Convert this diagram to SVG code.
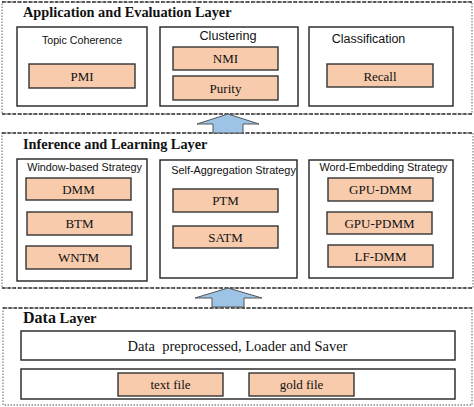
<svg xmlns="http://www.w3.org/2000/svg" width="474" height="407" viewBox="0 0 474 407">
<style>
.layer{fill:#fff;stroke:#888;stroke-width:1.3;stroke-dasharray:1.5 1.5}
.ledge{fill:none;stroke:#333;stroke-width:1.3;stroke-dasharray:3.5 1.8}
.box{fill:#fff;stroke:#222;stroke-width:1.4}
.item{fill:#f8cbad;stroke:#333;stroke-width:1.4}
.ltitle{font-family:"Liberation Serif",serif;font-weight:bold;font-size:14.3px;fill:#111}
.sub{font-family:"Liberation Sans",Arial,sans-serif;fill:#111;text-anchor:middle}
.it{font-family:"Liberation Serif",serif;font-size:13px;fill:#111;text-anchor:middle}
.arrow{fill:#9dc3e6;stroke:#555;stroke-width:1}
</style>
<rect width="474" height="407" fill="#fff"/>
<g id="layer-application">
<rect class="layer" x="2" y="2" width="470" height="112"/>
<path class="ledge" d="M2 2 H472 M2 114 H472"/>
<text class="ltitle" x="23" y="17">Application and Evaluation Layer</text>
<g id="topic-coherence">
<rect class="box" x="17" y="27" width="130" height="79"/>
<text class="sub" x="82" y="44" font-size="10.7">Topic Coherence</text>
<rect class="item" x="29" y="64" width="106" height="24"/>
<text class="it" x="82" y="81">PMI</text>
</g>
<g id="clustering">
<rect class="box" x="160" y="27" width="138" height="79"/>
<text class="sub" x="228" y="40" font-size="12.7">Clustering</text>
<rect class="item" x="173" y="47" width="105" height="23"/>
<text class="it" x="225.5" y="63">NMI</text>
<rect class="item" x="173" y="76" width="105" height="24"/>
<text class="it" x="225.5" y="93">Purity</text>
</g>
<g id="classification">
<rect class="box" x="309" y="27" width="144" height="79"/>
<text class="sub" x="368.5" y="43" font-size="12.5">Classification</text>
<rect class="item" x="327" y="64" width="106" height="23"/>
<text class="it" x="380" y="81">Recall</text>
</g>
</g>
<g id="layer-inference">
<rect class="layer" x="2" y="133" width="471" height="155"/>
<path class="ledge" d="M2 133 H473 M2 288 H473"/>
<text class="ltitle" x="23" y="149">Inference and Learning Layer</text>
<g id="window-based">
<rect class="box" x="17" y="159" width="130" height="122"/>
<text class="sub" x="84.5" y="171" font-size="10.8">Window-based Strategy</text>
<rect class="item" x="26" y="178" width="105" height="22"/>
<text class="it" x="78.5" y="194">DMM</text>
<rect class="item" x="27" y="212" width="105" height="23"/>
<text class="it" x="79.5" y="228">BTM</text>
<rect class="item" x="26" y="246" width="105" height="23"/>
<text class="it" x="78.5" y="262">WNTM</text>
</g>
<g id="self-aggregation">
<rect class="box" x="160" y="160" width="137" height="118"/>
<text class="sub" x="233.5" y="174" font-size="10.9">Self-Aggregation Strategy</text>
<rect class="item" x="173" y="189" width="105" height="23"/>
<text class="it" x="225.5" y="205">PTM</text>
<rect class="item" x="173" y="226" width="105" height="22"/>
<text class="it" x="225.5" y="242">SATM</text>
</g>
<g id="word-embedding">
<rect class="box" x="309" y="160" width="144" height="118"/>
<text class="sub" x="383.5" y="171" font-size="10.9">Word-Embedding Strategy</text>
<rect class="item" x="328" y="178" width="105" height="23"/>
<text class="it" x="380.5" y="194">GPU-DMM</text>
<rect class="item" x="327" y="212" width="105" height="22"/>
<text class="it" x="379.5" y="228">GPU-PDMM</text>
<rect class="item" x="328" y="245" width="105" height="22"/>
<text class="it" x="380.5" y="261">LF-DMM</text>
</g>
</g>
<g id="layer-data">
<rect class="layer" x="3" y="308" width="469" height="97"/>
<path class="ledge" d="M3 308 H472"/>
<text class="ltitle" x="23" y="323"><tspan font-size="16">Data</tspan> <tspan font-size="14.5">Layer</tspan></text>
<g id="data-preprocessed">
<rect class="box" x="21" y="331" width="434" height="29"/>
<text class="it" x="237.5" y="350.5" style="font-size:14.5px" xml:space="preserve">Data  preprocessed, Loader and Saver</text>
</g>
<g id="files">
<rect class="box" x="21" y="369" width="434" height="30"/>
<rect class="item" x="118" y="373" width="105" height="23"/>
<text class="it" x="170.5" y="389">text file</text>
<rect class="item" x="249" y="373" width="105" height="23"/>
<text class="it" x="301.5" y="389">gold file</text>
</g>
</g>
<g id="connectors">
<path class="arrow" d="M228 114 L259 124 L243 124 L243 133 L213 133 L213 124 L197 124 Z"/>
<path class="arrow" d="M228 288 L262 298 L244 298 L244 307 L212 307 L212 298 L195 298 Z"/>
</g>
</svg>
